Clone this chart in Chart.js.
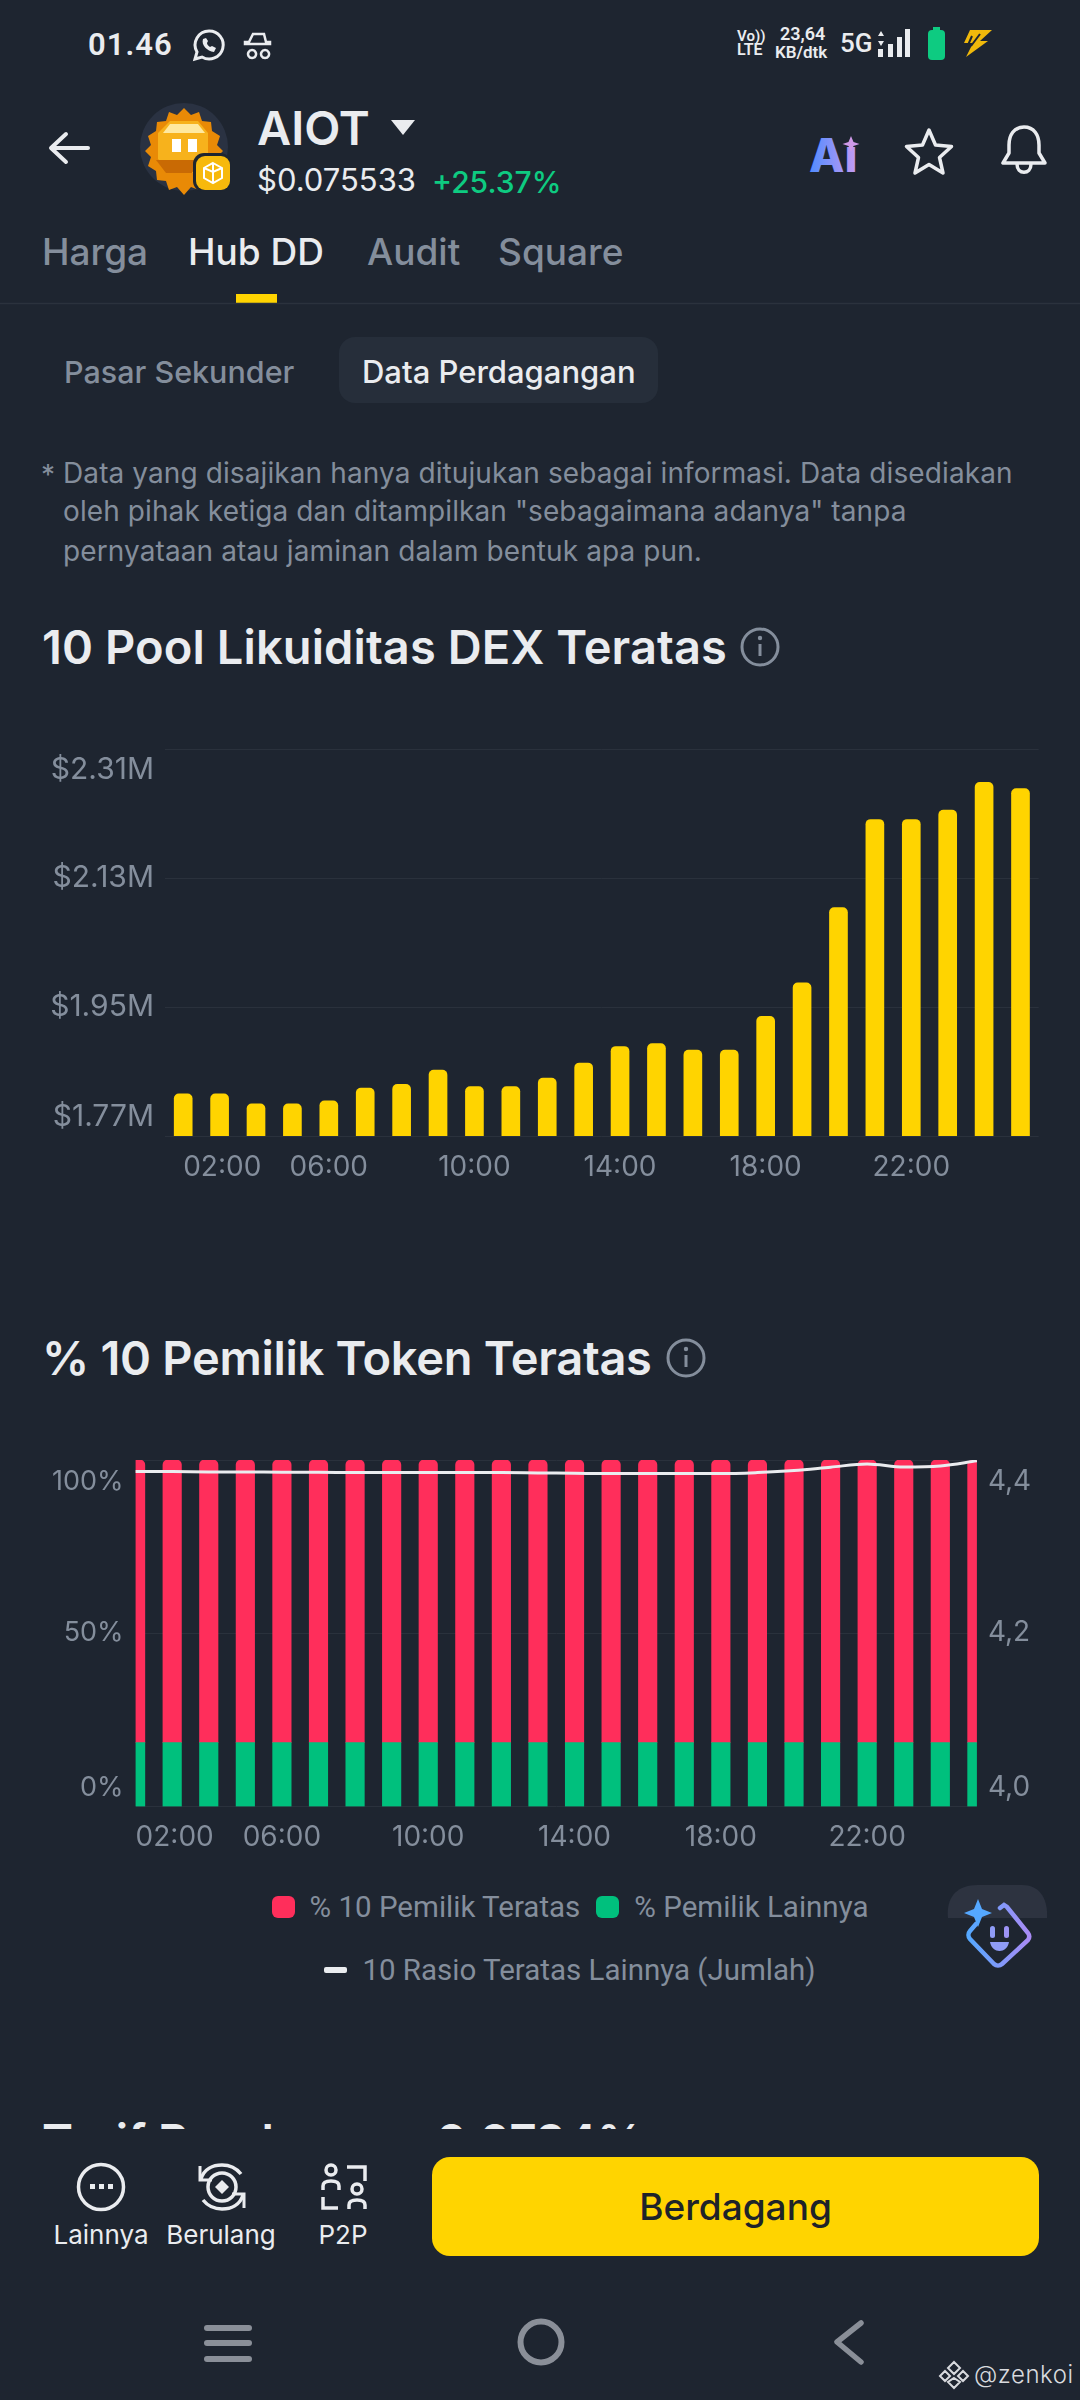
<!DOCTYPE html>
<html lang="id">
<head>
<meta charset="utf-8">
<title>AIOT - Data Perdagangan</title>
<script src="https://cdn.jsdelivr.net/npm/chart.js@4"></script>
<style>
  html, body { margin: 0; padding: 0; background: #1e2530; }
  #page { position: relative; width: 1080px; height: 2400px; overflow: hidden; background: #1e2530; font-family: Inter, sans-serif; }
  canvas { position: absolute; left: 0; }
  #icons { position: absolute; left: 0; top: 0; }
  .t { position: absolute; white-space: nowrap; line-height: 40px; height: 40px; }
  .grey { color: #848e9c; }
  .white { color: #eaecef; }
  .title { font-size: 47px; font-weight: 600; color: #eaecef; line-height: 60px; height: 60px; left: 42px; }
  .tab { font-size: 37px; font-weight: 500; top: 232px; }
  .note { font-size: 28px; left: 63px; color: #848e9c; letter-spacing: 0.1px; }
  .act { font-size: 26px; color: #eaecef; text-align: center; width: 140px; }
  #pill { position: absolute; left: 339px; top: 337px; width: 319px; height: 66px; border-radius: 16px; background: #262e3a; }
  #buy { position: absolute; left: 432px; top: 2157px; width: 607px; height: 99px; border-radius: 18px; background: #ffd400; color: #1e2329; font-size: 37px; font-weight: 500; text-align: center; line-height: 99px; }
  #clip { position: absolute; left: 0; top: 2100px; width: 1080px; height: 29px; overflow: hidden; }
  .legend { position: absolute; left: 60px; width: 1020px; display: flex; justify-content: center; align-items: center; font-family: Roboto, sans-serif; font-size: 29.5px; color: #848e9c; height: 40px; }
  .legend span { display: inline-flex; align-items: center; margin: 0 8px; }
  .legend i { display: inline-block; margin-right: 15px; width: 23px; }
</style>
</head>
<body>
<div id="page">
  <svg id="icons" width="1080" height="2400" viewBox="0 0 1080 2400" fill="none">
    <defs>
      <linearGradient id="aiGrad" x1="0" x2="1" y1="0" y2="0"><stop offset="0" stop-color="#4f8cff"/><stop offset="1" stop-color="#c79bf2"/></linearGradient>
      <linearGradient id="botGrad" x1="0" x2="1" y1="0" y2="0"><stop offset="0" stop-color="#55a8ff"/><stop offset="1" stop-color="#a98bf5"/></linearGradient>
    </defs>
    <!-- status bar -->
    <path d="M209 31a14 14 0 0 0-12 21l-2 7 7-2a14 14 0 1 0 7-26z" stroke="#eaecef" stroke-width="3"/>
    <path d="M203 39c-2 6 4 12 11 13l2-4-4-2-2 1c-2-1-3-3-3-4l1-2-2-3z" fill="#eaecef"/>
    <path d="M253 34h11l2 8h4v2h-25v-2h4zM252 50a4 4 0 1 0 .1 0zM265 50a4 4 0 1 0 .1 0z" stroke="#eaecef" stroke-width="2.5"/>
    <path d="M878 36l3-5 3 5zM878 41l3 5 3-5z" fill="#eaecef"/>
    <path d="M878 49h5v8h-5zM888 44h5v13h-5zM897 37h5v20h-5zM905 29h5v28h-5z" fill="#eaecef"/>
    <rect x="928" y="30" width="17" height="30" rx="4" fill="#0ecb81"/><rect x="933" y="27" width="7" height="4" fill="#0ecb81"/>
    <path d="M964 30h28l-12 11h8l-22 16 7-14h-9l6-13z" fill="#f0b90b"/><path d="M972 36l-8 18M980 34l-9 12" stroke="#1e2530" stroke-width="2"/>
    <!-- header -->
    <path d="M88 148H52M66 134l-15 14 15 14" stroke="#eaecef" stroke-width="4" stroke-linecap="round" stroke-linejoin="round"/>
    <circle cx="184" cy="147" r="44" fill="#2a3242"/>
    <path d="M184 108l7 7 8-3 3 9 9 1 1 9 8 5-3 9 6 6-6 6 3 9-8 5-1 9-9 1-3 9-8-3-7 8-7-8-8 3-3-9-9-1-1-9-8-5 3-9-6-6 6-6-3-9 8-5 1-9 9-1 3-9 8 3z" fill="#e98a06"/>
    <path d="M170 121h28l10 12v26l-14 14h-22l-14-14v-26z" fill="#f7b21c"/>
    <path d="M170 124h28l7 9h-42z" fill="#ffe9a0"/><rect x="172" y="139" width="9" height="13" fill="#fff"/><rect x="188" y="139" width="9" height="13" fill="#fff"/>
    <path d="M156 160h44l-8 13h-26z" fill="#c96a04"/>
    <rect x="193" y="153" width="38" height="39" rx="11" fill="#1e2530"/>
    <rect x="196" y="156" width="34" height="34" rx="9" fill="#f7b90c"/>
    <path d="M213 163l9 5v10l-9 5-9-5v-10zM213 163v9M204 168l9 4 9-4M213 172v11" stroke="#fff" stroke-width="2"/>
    <path d="M391 120h24l-12 15z" fill="#eaecef"/>
    <text x="809" y="172" font-family="Inter, sans-serif" font-size="46" font-weight="800" fill="url(#aiGrad)">Aı</text>
    <path d="M851 136l2.500 6 6 2-6 2-2.500 6-2.500-6-6-2 6-2z" fill="#cf9ae8"/>
    <path d="M929 130l6.500 15 16 1.500-12 11 3.500 15.500-14-8.500-14 8.500 3.500-15.500-12-11 16-1.500z" stroke="#eaecef" stroke-width="3.500" stroke-linejoin="round"/>
    <path d="M1024 127c-10 0-15 8-15 18v8l-6 10h42l-6-10v-8c0-10-5-18-15-18zM1017 164c0 11 14 11 14 0" stroke="#eaecef" stroke-width="3.500" stroke-linejoin="round"/>
    <!-- tab bar -->
    <rect x="236" y="294" width="41" height="9" fill="#ffd400"/>
    <path d="M0 303.500H1080" stroke="#2b323d" stroke-width="1.500"/>
    <!-- info icons -->
    <circle cx="760" cy="647" r="18" stroke="#848e9c" stroke-width="3"/><path d="M760 644v12" stroke="#848e9c" stroke-width="3"/><circle cx="760" cy="638" r="2.200" fill="#848e9c"/>
    <circle cx="686" cy="1358" r="18" stroke="#848e9c" stroke-width="3"/><path d="M686 1355v12" stroke="#848e9c" stroke-width="3"/><circle cx="686" cy="1349" r="2.200" fill="#848e9c"/>
    <!-- floating assistant -->
    <path d="M948 1918c-2-20 8-33 30-33h44c18 0 26 14 25 33z" fill="#2d3340"/>
    <path d="M1000 1908l4-3 3 2 21 26a6 6 0 0 1 0 7l-26 24a6 6 0 0 1-8 0l-24-25a6 6 0 0 1 0-8l6-7" stroke="url(#botGrad)" stroke-width="4.500" stroke-linecap="round" fill="none"/>
    <path d="M978 1899l4 10 10 4-10 4-4 10-4-10-10-4 10-4z" fill="#55a8ff"/>
    <rect x="990" y="1926" width="5" height="12" rx="2.500" fill="#8f9cf7"/><rect x="1004" y="1926" width="5" height="12" rx="2.500" fill="#9d93f5"/>
    <path d="M990 1942h19c-2 12-17 12-19 0z" fill="#8f9cf7"/>
    <!-- bottom actions -->
    <circle cx="101" cy="2187" r="22.500" stroke="#eaecef" stroke-width="3.500"/><rect x="90" y="2184" width="5" height="5" fill="#eaecef"/><rect x="99" y="2184" width="5" height="5" fill="#eaecef"/><rect x="108" y="2184" width="5" height="5" fill="#eaecef"/>
    <circle cx="222" cy="2187" r="14" stroke="#eaecef" stroke-width="3.500"/><path d="M222 2180l7 7-7 7-7-7z" fill="#eaecef"/>
    <path d="M201 2179c3-10 12-14 21-14 8 0 15 4 19 9M243 2195c-3 10-12 14-21 14-8 0-15-4-19-9" stroke="#eaecef" stroke-width="3.500"/><path d="M200 2166v14h12M244 2208v-14h-12" stroke="#eaecef" stroke-width="3"/>
    <circle cx="331" cy="2170" r="5" stroke="#eaecef" stroke-width="3.500"/><circle cx="357" cy="2189" r="5" stroke="#eaecef" stroke-width="3.500"/>
    <path d="M323 2190v-4c0-4 3-5 8-5s8 1 8 5v4M349 2209v-4c0-4 3-5 8-5s8 1 8 5v4M347 2167h18v14M323 2197v11h15" stroke="#eaecef" stroke-width="3.500"/>
    <!-- nav bar -->
    <g fill="#8a8f98"><rect x="204" y="2325" width="48" height="6" rx="3"/><rect x="204" y="2340" width="48" height="6" rx="3"/><rect x="204" y="2356" width="48" height="6" rx="3"/></g>
    <circle cx="541" cy="2342" r="20.500" stroke="#8a8f98" stroke-width="6"/>
    <path d="M861 2323l-24 19 24 20" stroke="#8a8f98" stroke-width="5.500" stroke-linecap="round" stroke-linejoin="round"/>
    <!-- watermark -->
    <path d="M954 2362l6 6-6 6-6-6zM945 2371l5 5-5 5-5-5zM963 2371l5 5-5 5-5-5zM954 2378l6 4-6 6-6-6z" stroke="#d8dade" stroke-width="2"/>
  </svg>

  <div class="t white" style="left:88px;top:25px;font:600 31px/40px Roboto,sans-serif;letter-spacing:1px">01.46</div>
  <div class="t white" style="left:737px;top:26px;font:600 15px/20px Roboto,sans-serif;height:20px">Vo))</div>
  <div class="t white" style="left:737px;top:40px;font:600 16px/20px Roboto,sans-serif;height:20px">LTE</div>
  <div class="t white" style="left:780px;top:24px;font:600 18px/20px Roboto,sans-serif;height:20px">23,64</div>
  <div class="t white" style="left:775px;top:42px;font:600 17px/20px Roboto,sans-serif;height:20px">KB/dtk</div>
  <div class="t white" style="left:840px;top:23px;font:500 26px/40px Roboto,sans-serif">5G</div>

  <div class="t white" style="left:257px;top:103px;font-size:47px;font-weight:600;line-height:50px;height:50px">AIOT</div>
  <div class="t white" style="left:257px;top:160px;font-size:31px">$0.075533</div>
  <div class="t" style="left:432px;top:162px;font-size:30px;font-weight:500;color:#0ecb81">+25.37%</div>

  <div class="t tab grey" style="left:42px">Harga</div>
  <div class="t tab white" style="left:188px">Hub DD</div>
  <div class="t tab grey" style="left:367px">Audit</div>
  <div class="t tab grey" style="left:498px">Square</div>

  <div id="pill"></div>
  <div class="t grey" style="left:64px;top:352px;font-size:30.5px;font-weight:500">Pasar Sekunder</div>
  <div class="t white" style="left:362px;top:352px;font-size:31px;font-weight:500">Data Perdagangan</div>

  <div class="t note" style="left:41px;top:455px">*</div>
  <div class="t note" style="top:453px">Data yang disajikan hanya ditujukan sebagai informasi. Data disediakan</div>
  <div class="t note" style="top:491px">oleh pihak ketiga dan ditampilkan "sebagaimana adanya" tanpa</div>
  <div class="t note" style="top:531px">pernyataan atau jaminan dalam bentuk apa pun.</div>

  <div class="t title" style="top:617px;letter-spacing:0.1px">10 Pool Likuiditas DEX Teratas</div>
  <canvas id="poolChart" width="1080" height="470" style="top:730px;width:1080px;height:470px"></canvas>

  <div class="t title" style="top:1328px;letter-spacing:-0.3px">% 10 Pemilik Token Teratas</div>
  <canvas id="holderChart" width="1080" height="430" style="top:1440px;width:1080px;height:430px"></canvas>
  <div class="legend" id="legendA" style="top:1887px"></div>
  <div class="legend" id="legendB" style="top:1950px"></div>

  <div id="clip">
    <div class="t title" style="top:11px">Tarif Pendanaan</div>
    <div class="t title" style="left:436px;top:11px">0.0734%</div>
  </div>

  <div class="t act" style="left:31px;top:2215px">Lainnya</div>
  <div class="t act" style="left:151px;top:2215px">Berulang</div>
  <div class="t act" style="left:273px;top:2215px">P2P</div>
  <div id="buy">Berdagang</div>
  <div class="t" style="left:974px;top:2355px;font:300 24px/40px Inter,sans-serif;color:#d8dade;letter-spacing:0.5px">@zenkoi</div>
</div>

<script>
const hours = ["02:00","03:00","04:00","05:00","06:00","07:00","08:00","09:00","10:00","11:00","12:00","13:00",
  "14:00","15:00","16:00","17:00","18:00","19:00","20:00","21:00","22:00","23:00","00:00","01:00"];
const shownHours = ["02:00","06:00","10:00","14:00","18:00","22:00"];

// juta USD
const poolValues = [1.829,1.829,1.815,1.815,1.819,1.837,1.842,1.862,1.839,1.839,1.851,1.872,
  1.895,1.899,1.890,1.890,1.937,1.984,2.089,2.212,2.212,2.225,2.264,2.255];
const poolTicks = [1.77,1.95,2.13,2.31];

const topHolderPct = [81.5,81.5,81.5,81.5,81.5,81.5,81.5,81.5,81.5,81.5,81.5,81.5,
  81.5,81.5,81.5,81.5,81.5,81.5,81.5,81.5,81.5,81.5,81.5,81.5];
const otherHolderPct = [18.5,18.5,18.5,18.5,18.5,18.5,18.5,18.5,18.5,18.5,18.5,18.5,
  18.5,18.5,18.5,18.5,18.5,18.5,18.5,18.5,18.5,18.5,18.5,18.5];
const ratioValues = [4.3866,4.3866,4.3862,4.3862,4.3859,4.3859,4.3855,4.3855,4.3855,4.3855,4.3855,4.3851,
  4.3847,4.3843,4.3843,4.3843,4.3843,4.3855,4.3878,4.3917,4.3955,4.3920,4.3932,4.3990];
const pctTicks = [0,50,100];
const ratioTicks = [4.0,4.2,4.4];

const tickColor = "#848e9c";
const gridColor = "#2a313c";
const fontOf = size => ({ family: "Inter, sans-serif", size });

// label pertama/terakhir digeser masuk ke dalam area chart
const edgeLabels = {
  id: "edgeLabels",
  beforeDraw(chart, args, opts) {
    Object.entries(opts.shift || {}).forEach(([id, shift]) => {
      const scale = chart.scales[id];
      scale.getLabelItems().forEach((item, i) => {
        item.options.translation[1] = scale.getPixelForTick(i) + shift[i];
      });
    });
    const first = chart.scales.x.getLabelItems()[0];
    if (first) first.options.textAlign = "left";
  }
};

function noPadding(s) {
  s.paddingTop = s.paddingBottom = s.paddingLeft = s.paddingRight = 0;
}

function xAxis(offset, height, padding) {
  return {
    offset,
    stacked: true,
    grid: { display: false, drawTicks: false },
    border: { display: false },
    afterFit: s => { s.height = height; noPadding(s); },
    ticks: {
      color: tickColor,
      font: fontOf(28),
      padding,
      autoSkip: false,
      maxRotation: 0,
      callback: (v, i) => shownHours.includes(hours[i]) ? hours[i] : ""
    }
  };
}

function valueAxis(values, width, fmt, position, size, padding) {
  return {
    position,
    min: values[0],
    max: values[values.length - 1],
    afterFit: s => { s.width = width; noPadding(s); },
    afterBuildTicks: s => { s.ticks = values.map(v => ({ value: v })); },
    border: { display: false },
    grid: { color: gridColor, lineWidth: 1, drawTicks: false },
    ticks: { color: tickColor, font: fontOf(size), padding, callback: fmt }
  };
}

new Chart(document.getElementById("poolChart"), {
  type: "bar",
  data: {
    labels: hours,
    datasets: [{
      label: "10 Pool Likuiditas DEX Teratas",
      data: poolValues,
      backgroundColor: "#ffd400",
      barThickness: 18,
      borderRadius: { topLeft: 5, topRight: 5 },
      borderSkipped: "bottom"
    }]
  },
  plugins: [edgeLabels],
  options: {
    responsive: false,
    animation: false,
    layout: { padding: { top: 19.3, right: 41.3 } },
    plugins: {
      legend: { display: false },
      tooltip: { enabled: false },
      edgeLabels: { shift: { y: [-19.5, 0, 0, 21] } }
    },
    scales: {
      x: xAxis(true, 64, 15),
      y: valueAxis(poolTicks, 165, v => "$" + v.toFixed(2) + "M", "left", 30, 11)
    }
  }
});

const holderSets = [
  {
    label: "% 10 Pemilik Teratas",
    data: topHolderPct,
    backgroundColor: "#ff2e5b",
    barThickness: 18.5,
    borderRadius: { topLeft: 5, topRight: 5 },
    borderSkipped: "bottom",
    stack: "pct",
    order: 2
  },
  {
    label: "% Pemilik Lainnya",
    data: otherHolderPct,
    backgroundColor: "#00c07d",
    barThickness: 18.5,
    stack: "pct",
    order: 2
  },
  {
    type: "line",
    label: "10 Rasio Teratas Lainnya (Jumlah)",
    data: ratioValues,
    yAxisID: "y2",
    borderColor: "#eaecef",
    backgroundColor: "#eaecef",
    borderWidth: 3,
    pointRadius: 0,
    cubicInterpolationMode: "monotone",
    order: 1
  }
];

// hijau di bawah, merah di atas
const stackOrder = [holderSets[1], holderSets[0], holderSets[2]];

new Chart(document.getElementById("holderChart"), {
  type: "bar",
  data: { labels: hours, datasets: stackOrder },
  plugins: [edgeLabels],
  options: {
    responsive: false,
    animation: false,
    layout: { padding: { top: 20 } },
    plugins: {
      legend: { display: false },
      tooltip: { enabled: false },
      edgeLabels: { shift: { y: [-19, -0.5, 21.5], y2: [-19, -0.5, 21.5] } }
    },
    scales: {
      x: xAxis(false, 63.3, 14),
      y: { ...valueAxis(pctTicks, 135.6, v => v + "%", "left", 27, 12), stacked: true },
      y2: {
        ...valueAxis(ratioTicks, 103.1, v => v.toFixed(1).replace(".", ","), "right", 28, 11),
        grid: { display: false, drawTicks: false }
      }
    }
  }
});

// legenda dari dataset
function addLegend(containerId, ds) {
  const item = document.createElement("span");
  const mark = document.createElement("i");
  const isLine = ds.type === "line";
  mark.style.height = isLine ? "6px" : "22px";
  mark.style.borderRadius = isLine ? "2px" : "6px";
  mark.style.background = ds.backgroundColor;
  item.appendChild(mark);
  item.appendChild(document.createTextNode(ds.label));
  document.getElementById(containerId).appendChild(item);
}
addLegend("legendA", holderSets[0]);
addLegend("legendA", holderSets[1]);
addLegend("legendB", holderSets[2]);
</script>
</body>
</html>
